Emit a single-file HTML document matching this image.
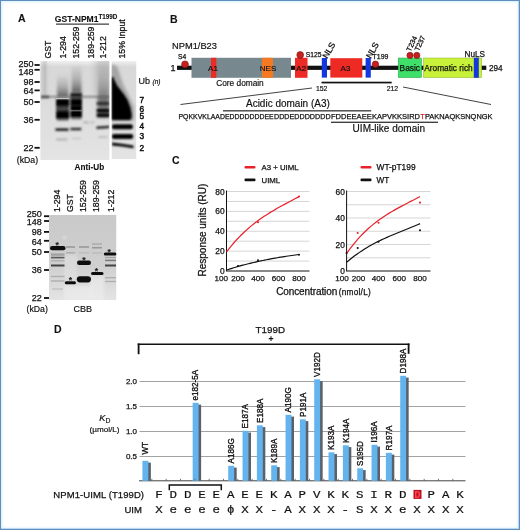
<!DOCTYPE html>
<html><head><meta charset="utf-8"><title>Figure</title>
<style>
html,body{margin:0;padding:0;background:#fff;}
body{width:520px;height:530px;overflow:hidden;position:relative;font-family:"Liberation Sans",sans-serif;}
#frame{position:absolute;left:0;top:0;width:518px;height:528px;border:1px solid #5f8dbd;box-shadow:inset -1px -1px 0 0 rgba(110,160,215,.35), inset 0 0 3px 1px rgba(200,235,252,.8);}
svg{position:absolute;left:0;top:0;}
text{font-family:"Liberation Sans",sans-serif;fill:#111;stroke:#111;stroke-width:.18px;}
.t{stroke:#111;stroke-width:.25px;}
.b{font-weight:bold;stroke-width:.1px;}
.mono{font-family:"Liberation Mono",monospace;}
</style></head><body>
<svg width="520" height="530" viewBox="0 0 520 530">
<defs>
<filter id="bl1" x="-20%" y="-50%" width="140%" height="200%"><feGaussianBlur stdDeviation="0.8"/></filter>
<filter id="bl2" x="-20%" y="-50%" width="140%" height="200%"><feGaussianBlur stdDeviation="1.6"/></filter>
<filter id="bl3" x="-30%" y="-30%" width="160%" height="160%"><feGaussianBlur stdDeviation="3"/></filter>
<filter id="bl0" x="-20%" y="-50%" width="140%" height="200%"><feGaussianBlur stdDeviation="0.5"/></filter>
<clipPath id="c1"><rect x="40.4" y="61" width="69" height="99"/></clipPath>
<clipPath id="c2"><rect x="111.5" y="61" width="25" height="98"/></clipPath>
<clipPath id="c3"><rect x="49" y="215" width="67.5" height="85"/></clipPath>
<linearGradient id="g1" x1="0" y1="0" x2="0" y2="1"><stop offset="0" stop-color="#f0f0f0"/><stop offset="0.06" stop-color="#d8d8d8"/><stop offset="0.45" stop-color="#dcdcdc"/><stop offset="1" stop-color="#e4e4e4"/></linearGradient>
<linearGradient id="sm" x1="0" y1="0" x2="0" y2="1"><stop offset="0" stop-color="#555" stop-opacity="0"/><stop offset="0.5" stop-color="#555" stop-opacity=".3"/><stop offset="1" stop-color="#333" stop-opacity=".75"/></linearGradient>
<linearGradient id="g3" x1="0" y1="0" x2="0" y2="1"><stop offset="0" stop-color="#c9c9c9"/><stop offset="0.6" stop-color="#cfcfcf"/><stop offset="1" stop-color="#e4e4e4"/></linearGradient>
</defs>

<g id="panelA">
<text class="b" x="18" y="21.5" font-size="10.5">A</text>
<text class="b" x="54.8" y="21.5" font-size="8.55">GST-NPM1<tspan font-size="6.3" dy="-3">T199D</tspan></text>
<rect x="56" y="23.6" width="53" height="1" fill="#111"/>
<text class="t" transform="translate(51,58.5) rotate(-90) scale(1,1.06)" font-size="8.7" >GST</text>
<text class="t" transform="translate(65.5,58.5) rotate(-90) scale(1,1.06)" font-size="8.7" >1-294</text>
<text class="t" transform="translate(79,58.5) rotate(-90) scale(1,1.06)" font-size="8.7" >152-259</text>
<text class="t" transform="translate(93.5,58.5) rotate(-90) scale(1,1.06)" font-size="8.7" >189-259</text>
<text class="t" transform="translate(106,58.5) rotate(-90) scale(1,1.06)" font-size="8.7" >1-212</text>
<text class="t" transform="translate(124.8,58.5) rotate(-90) scale(1,1.06)" font-size="8.7" >15% Input</text>
<text class="t" x="33.6" y="67.25" font-size="9" text-anchor="end">250</text>
<rect x="34.5" y="64.1" width="5.200000000000003" height="1.8" fill="#111"/>
<text class="t" x="33.6" y="75.45" font-size="9" text-anchor="end">148</text>
<rect x="34.5" y="68.89999999999999" width="5.200000000000003" height="1.8" fill="#111"/>
<text class="t" x="33.6" y="85.25" font-size="9" text-anchor="end">98</text>
<rect x="34.5" y="81.1" width="5.200000000000003" height="1.8" fill="#111"/>
<text class="t" x="33.6" y="93.95" font-size="9" text-anchor="end">64</text>
<rect x="34.5" y="89.5" width="5.200000000000003" height="1.8" fill="#111"/>
<text class="t" x="33.6" y="105.25" font-size="9" text-anchor="end">50</text>
<rect x="34.5" y="101.1" width="5.200000000000003" height="1.8" fill="#111"/>
<text class="t" x="33.6" y="123.05" font-size="9" text-anchor="end">36</text>
<rect x="34.5" y="118.89999999999999" width="5.200000000000003" height="1.8" fill="#111"/>
<text class="t" x="33.6" y="151.05" font-size="9" text-anchor="end">22</text>
<rect x="34.5" y="146.9" width="5.200000000000003" height="1.8" fill="#111"/>
<text x="16.8" y="163.4" font-size="8.7">(kDa)</text>
<text x="89.4" y="170.3" font-size="8.2" text-anchor="middle" class="b">Anti-Ub</text>
<g clip-path="url(#c1)">
<rect x="40" y="61" width="70" height="99" fill="url(#g1)"/>
<g filter="url(#bl3)">
<rect x="95" y="58" width="18" height="38" fill="#999" opacity=".4"/>
<rect x="40" y="60" width="6" height="36" fill="#aaa" opacity=".35"/>
</g>
<g filter="url(#bl2)">
<rect x="57" y="74" width="11.5" height="23" fill="url(#sm)"/>
<rect x="71.5" y="64" width="10" height="29" fill="url(#sm)"/>
<rect x="98" y="62" width="11" height="34" fill="url(#sm)" opacity=".6"/>
<rect x="97.5" y="96" width="12" height="22" fill="#333" opacity=".6"/>
</g>
<g filter="url(#bl1)">
<rect x="41" y="95.6" width="8" height="2.6" fill="#333"/>
<rect x="41" y="96" width="69" height="1.5" fill="#555" opacity=".8"/>
<rect x="44" y="61" width="1.5" height="34" fill="#888" opacity=".45"/>
<rect x="56.3" y="99" width="12.8" height="20" fill="#222"/>
<rect x="56.3" y="99" width="12.8" height="6.6" fill="#000"/>
<rect x="56.3" y="107" width="12.8" height="3.2" fill="#4a4a4a"/>
<rect x="56.3" y="111.4" width="12.8" height="7.4" fill="#000"/>
<rect x="57" y="118.5" width="11.5" height="2.2" fill="#555" opacity=".8"/>
<rect x="70.6" y="93" width="11.2" height="24.5" fill="#1a1a1a"/>
<rect x="70.6" y="93" width="11.2" height="3" fill="#111"/>
<rect x="70.6" y="96.5" width="11.2" height="2" fill="#555"/>
<rect x="70.6" y="99" width="11.2" height="6" fill="#000"/>
<rect x="70.6" y="106" width="11.2" height="4" fill="#000"/>
<rect x="70.6" y="111.6" width="11.2" height="5.8" fill="#000"/>
<rect x="71" y="117.5" width="10.5" height="2" fill="#555" opacity=".7"/>
</g>
<g filter="url(#bl0)">
<rect x="56" y="98" width="13" height=".7" fill="#ddd"/>
<rect x="70.3" y="110.4" width="11.5" height=".8" fill="#999"/>
</g>
<g filter="url(#bl1)">
<rect x="55.5" y="128.3" width="13" height="2.6" fill="#1a1a1a"/>
<rect x="70.5" y="127.8" width="10.8" height="2.5" fill="#2a2a2a"/>
<rect x="56" y="138.6" width="11.5" height="1.8" fill="#999" opacity=".7"/>
<rect x="72" y="137.8" width="9" height="1.5" fill="#aaa" opacity=".5"/>
<rect x="83.5" y="121.6" width="5" height="1.7" fill="#999" opacity=".8"/>
<rect x="90" y="121.6" width="4.5" height="1.7" fill="#aaa" opacity=".7"/>
<rect x="96.8" y="102.4" width="12.5" height="2.2" fill="#111"/>
<rect x="96.8" y="109" width="12.5" height="3.2" fill="#000"/>
<rect x="96.8" y="113.6" width="12.5" height="3.2" fill="#000"/>
<polygon points="96.5,126.6 109.5,125.8 109.5,128 96.5,128.9" fill="#1a1a1a"/>
<rect x="98.5" y="136.3" width="9" height="1.5" fill="#999" opacity=".6"/>
</g>
</g>
<g clip-path="url(#c2)">
<rect x="111.5" y="61" width="25" height="98" fill="url(#g1)"/>
<g filter="url(#bl2)"><polygon points="111,64 117,66 123,84 130,98 134,107 134,121 111,121" fill="#666" opacity=".45"/></g>
<g filter="url(#bl1)">
<polygon points="111.5,77.5 113.3,76.8 114.6,80.5 117.3,85.8 119.4,88.6 123.9,94.3 127.6,100 130.4,107.4 131.7,114 131.7,118 130,120 112.5,120 111.5,119" fill="#000"/>
<rect x="111.8" y="124.2" width="21.2" height="5" rx="2.2" fill="#000"/>
<rect x="111.8" y="134" width="21.5" height="5" rx="2.2" fill="#000"/>
<polygon points="112,142.6 122,143.8 133.5,145.6 133.5,148.2 122,146.6 112,145.6" fill="#000"/>
</g>
</g>
<text x="138.5" y="84.3" font-size="9">Ub <tspan font-size="6.5" font-style="italic">(n)</tspan></text>
<text x="139.6" y="102.95" font-size="8.3" style="stroke-width:.45px">7</text>
<text x="139.6" y="111.55" font-size="8.3" style="stroke-width:.45px">6</text>
<text x="139.6" y="119.25" font-size="8.3" style="stroke-width:.45px">5</text>
<text x="139.6" y="128.54999999999998" font-size="8.3" style="stroke-width:.45px">4</text>
<text x="139.6" y="139.35" font-size="8.3" style="stroke-width:.45px">3</text>
<text x="139.6" y="150.64999999999998" font-size="8.3" style="stroke-width:.45px">2</text>
<text class="t" transform="translate(59.5,212) rotate(-90) scale(1,1.06)" font-size="8.7" >1-294</text>
<text class="t" transform="translate(73,212) rotate(-90) scale(1,1.06)" font-size="8.7" >GST</text>
<text class="t" transform="translate(86,212) rotate(-90) scale(1,1.06)" font-size="8.7" >152-259</text>
<text class="t" transform="translate(99,212) rotate(-90) scale(1,1.06)" font-size="8.7" >189-259</text>
<text class="t" transform="translate(113.5,212) rotate(-90) scale(1,1.06)" font-size="8.7" >1-212</text>
<text class="t" x="41.8" y="217.45" font-size="9" text-anchor="end">250</text>
<rect x="44" y="215.29999999999998" width="5" height="1.8" fill="#111"/>
<text class="t" x="41.8" y="225.05" font-size="9" text-anchor="end">148</text>
<rect x="44" y="220.1" width="5" height="1.8" fill="#111"/>
<text class="t" x="41.8" y="234.95" font-size="9" text-anchor="end">98</text>
<rect x="44" y="231.0" width="5" height="1.8" fill="#111"/>
<text class="t" x="41.8" y="244.95" font-size="9" text-anchor="end">64</text>
<rect x="44" y="239.9" width="5" height="1.8" fill="#111"/>
<text class="t" x="41.8" y="255.25" font-size="9" text-anchor="end">50</text>
<rect x="44" y="251.1" width="5" height="1.8" fill="#111"/>
<text class="t" x="41.8" y="273.25" font-size="9" text-anchor="end">36</text>
<rect x="44" y="269.1" width="5" height="1.8" fill="#111"/>
<text class="t" x="41.8" y="301.25" font-size="9" text-anchor="end">22</text>
<rect x="44" y="297.1" width="5" height="1.8" fill="#111"/>
<text x="26.6" y="311.6" font-size="8.7">(kDa)</text>
<text x="82.7" y="311.6" font-size="9" text-anchor="middle">CBB</text>
<g clip-path="url(#c3)">
<rect x="49" y="214" width="67.5" height="86" fill="url(#g3)"/>
<g filter="url(#bl2)">
<rect x="64" y="255" width="13" height="24" fill="#eee" opacity=".35"/>
<rect x="90" y="276" width="14" height="24" fill="#f2f2f2" opacity=".5"/>
<rect x="64" y="286" width="28" height="14" fill="#eee" opacity=".6"/>
</g>
<circle cx="64.5" cy="237.4" r="1.2" fill="#fff" opacity=".6" filter="url(#bl1)"/>
<g filter="url(#bl0)">
<rect x="50" y="246.1" width="15.5" height="4.2" rx="2.1" fill="#111" opacity="1"/>
<rect x="51" y="253.4" width="13.5" height="2.4" rx="0" fill="#777" opacity="0.5"/>
<rect x="51" y="256.8" width="13.5" height="1.6" rx="0" fill="#444" opacity="0.85"/>
<rect x="51" y="260.1" width="13.5" height="1.4" rx="0" fill="#777" opacity="0.35"/>
<rect x="51" y="264.5" width="13.5" height="2" rx="0" fill="#333" opacity="0.9"/>
<rect x="51" y="275.8" width="13.5" height="1.4" rx="0" fill="#888" opacity="0.5"/>
<rect x="51" y="280.3" width="13.5" height="1.4" rx="0" fill="#888" opacity="0.5"/>
<rect x="52" y="288.3" width="11" height="1.4" rx="0" fill="#999" opacity="0.4"/>
<rect x="64.8" y="281.3" width="11.200000000000003" height="3" rx="1.5" fill="#111" opacity="1"/>
<rect x="66" y="246.2" width="9" height="1.6" rx="0" fill="#777" opacity="0.6"/>
<rect x="66" y="252.10000000000002" width="9" height="1.4" rx="0" fill="#888" opacity="0.5"/>
<rect x="77" y="260.5" width="14" height="4.4" rx="2.2" fill="#111" opacity="1"/>
<rect x="76.8" y="276.2" width="14.200000000000003" height="6.2" rx="3.1" fill="#111" opacity="1"/>
<rect x="79" y="246.2" width="10" height="1.6" rx="0" fill="#777" opacity="0.6"/>
<rect x="79" y="252.20000000000002" width="10" height="1.2" rx="0" fill="#999" opacity="0.4"/>
<rect x="91" y="272.1" width="12.5" height="3" rx="1.5" fill="#111" opacity="1"/>
<rect x="92" y="243.3" width="10" height="1.4" rx="0" fill="#888" opacity="0.5"/>
<rect x="92" y="246.89999999999998" width="10" height="1.6" rx="0" fill="#777" opacity="0.6"/>
<rect x="92" y="252.4" width="10" height="1.2" rx="0" fill="#999" opacity="0.4"/>
<rect x="103.8" y="252.4" width="12.700000000000003" height="3.2" rx="1.6" fill="#111" opacity="1"/>
<rect x="105" y="259.65" width="11" height="1.5" rx="0" fill="#555" opacity="0.7"/>
<rect x="105" y="264.5" width="11" height="2" rx="0" fill="#333" opacity="0.9"/>
<rect x="105" y="256.9" width="11" height="1.2" rx="0" fill="#777" opacity="0.5"/>
<rect x="105" y="277.0" width="11" height="1.4" rx="0" fill="#888" opacity="0.5"/>
<rect x="105" y="280.8" width="11" height="1.4" rx="0" fill="#888" opacity="0.5"/>
</g>
</g>
<text x="57.3" y="248.20000000000002" font-size="8.6" text-anchor="middle" class="b" style="fill:#222">*</text>
<text x="70.5" y="283.2" font-size="8.6" text-anchor="middle" class="b" style="fill:#222">*</text>
<text x="83.9" y="262.7" font-size="8.6" text-anchor="middle" class="b" style="fill:#222">*</text>
<text x="96.5" y="274.0" font-size="8.6" text-anchor="middle" class="b" style="fill:#222">*</text>
<text x="109.2" y="254.70000000000002" font-size="8.6" text-anchor="middle" class="b" style="fill:#222">*</text>
</g>
<g id="panelB">
<text class="b" x="170" y="22.5" font-size="10.5">B</text>
<text x="172" y="48.8" font-size="9.3">NPM1/B23</text>
<rect x="177" y="65.7" width="309.3" height="4.2" fill="#111"/>
<text class="t" x="170.5" y="71" font-size="9">1</text>
<text class="t" x="489" y="70.9" font-size="8.2">294</text>
<rect x="191.5" y="57.8" width="99.5" height="20" fill="#77898f"/>
<rect x="211" y="57.8" width="5.3" height="20" fill="#ee2a24"/>
<rect x="262" y="57.8" width="11" height="20" fill="#f47920"/>
<rect x="295" y="57.8" width="12.5" height="20" fill="#ee2a24"/>
<rect x="321.8" y="58" width="5.2" height="19.6" fill="#1438e0"/>
<rect x="330.3" y="58.2" width="32" height="19.4" fill="#ee2a24"/>
<rect x="365.6" y="58" width="5.2" height="19.6" fill="#1438e0"/>
<rect x="398.2" y="58" width="23.3" height="19.6" fill="#3fe06a" stroke="#2a9a48" stroke-width=".5"/>
<rect x="423.5" y="58" width="58.2" height="19.6" fill="#c8f23a" stroke="#8fae2a" stroke-width=".5"/>
<rect x="473.8" y="57.8" width="5" height="20" fill="#1438e0"/>
<circle cx="185" cy="64.3" r="3.4" fill="#c8201e" stroke="#7a1210" stroke-width=".6"/>
<circle cx="300.2" cy="55" r="3.4" fill="#c8201e" stroke="#7a1210" stroke-width=".6"/>
<circle cx="375.4" cy="64.2" r="3.2" fill="#c8201e" stroke="#7a1210" stroke-width=".6"/>
<circle cx="410" cy="55.4" r="3.1" fill="#c8201e" stroke="#7a1210" stroke-width=".6"/>
<circle cx="416.8" cy="55.4" r="3.1" fill="#c8201e" stroke="#7a1210" stroke-width=".6"/>
<text x="178" y="58.8" font-size="6.7" style="stroke-width:.25px">S4</text>
<text x="305.8" y="57" font-size="6.7" style="stroke-width:.25px">S125</text>
<text x="372.6" y="59" font-size="6.9" style="stroke-width:.25px">T199</text>
<text x="213" y="70.8" font-size="8" text-anchor="middle">A1</text>
<text x="268" y="70.8" font-size="8" text-anchor="middle">NES</text>
<text x="301.2" y="70.8" font-size="8" text-anchor="middle">A2</text>
<text x="345.5" y="70.8" font-size="8" text-anchor="middle">A3</text>
<text class="t" x="409.8" y="71" font-size="8.4" text-anchor="middle">Basic</text>
<text class="t" x="448.5" y="71" font-size="8.3" text-anchor="middle">Aromatic rich</text>
<text class="t" x="474.8" y="56.9" font-size="8.2" text-anchor="middle">NuLS</text>
<text  transform="translate(327.3,59) rotate(-60)" font-size="8.6" style="stroke-width:.3px">NLS</text>
<text  transform="translate(370.8,59) rotate(-60)" font-size="8.6" style="stroke-width:.3px">NLS</text>
<text  transform="translate(410.6,51.9) rotate(-65)" font-size="7" style="stroke-width:.3px">T234</text>
<text  transform="translate(418.7,51.6) rotate(-65)" font-size="7" style="stroke-width:.3px">T237</text>
<text x="240" y="86.4" font-size="8.3" text-anchor="middle">Core domain</text>
<rect x="321.5" y="81.7" width="70.2" height="1.7" fill="#111"/>
<text x="321.7" y="91.2" font-size="6.9" text-anchor="middle">152</text>
<text x="392.4" y="90.6" font-size="6.9" text-anchor="middle">212</text>
<line x1="180.5" y1="104.5" x2="312" y2="88" stroke="#111" stroke-width=".8"/>
<line x1="403" y1="87" x2="491" y2="104.5" stroke="#111" stroke-width=".8"/>
<text x="246" y="106.8" font-size="10.3" textLength="83.8" lengthAdjust="spacingAndGlyphs">Acidic domain (A3)</text>
<rect x="223" y="110.3" width="148.2" height="1.1" fill="#111"/>
<text class="t" y="119" font-size="7.4"><tspan x="178.5" textLength="95.2" lengthAdjust="spacingAndGlyphs" style="fill:#111;stroke:#111">PQKKVKLAADEDDDDDDDEE</tspan><tspan x="274" textLength="56.6" lengthAdjust="spacingAndGlyphs" style="fill:#111;stroke:#111">DDDEDDDDDDD</tspan><tspan x="330.9" textLength="40.9" lengthAdjust="spacingAndGlyphs" style="fill:#111;stroke:#111">FDDEEAEE</tspan><tspan x="372" textLength="48.0" lengthAdjust="spacingAndGlyphs" style="fill:#111;stroke:#111">KAPVKKSIRD</tspan><tspan x="420.3" textLength="4.4" lengthAdjust="spacingAndGlyphs" style="fill:#e02020;stroke:#e02020">T</tspan><tspan x="424.9" textLength="67.6" lengthAdjust="spacingAndGlyphs" style="fill:#111;stroke:#111">PAKNAQKSNQNGK</tspan></text>
<rect x="331" y="121.7" width="107" height="1.1" fill="#111"/>
<text x="352.6" y="132.2" font-size="10.3" textLength="72.5" lengthAdjust="spacingAndGlyphs">UIM-like domain</text>
</g>
<g id="panelC">
<text class="b" x="172" y="164" font-size="10.5">C</text>
<rect x="244.5" y="165.9" width="11" height="2.6" rx="1" fill="#e8202a"/>
<rect x="244.5" y="178.6" width="11" height="2.6" rx="1" fill="#111"/>
<text class="t" x="261.5" y="170.2" font-size="7.8" textLength="37" lengthAdjust="spacing">A3 + UIML</text>
<text class="t" x="261.5" y="183" font-size="7.8">UIML</text>
<rect x="360.5" y="165.9" width="11" height="2.6" rx="1" fill="#e8202a"/>
<rect x="360.5" y="178.6" width="11" height="2.6" rx="1" fill="#111"/>
<text class="t" x="376.5" y="170.3" font-size="8.4">WT-pT199</text>
<text class="t" x="376.5" y="183.2" font-size="8.2">WT</text>
<line x1="226.5" y1="261.06" x2="309.5" y2="261.06" stroke="#c4c4c4" stroke-width=".7"/>
<line x1="226.5" y1="251.12" x2="309.5" y2="251.12" stroke="#c4c4c4" stroke-width=".7"/>
<line x1="226.5" y1="241.19" x2="309.5" y2="241.19" stroke="#c4c4c4" stroke-width=".7"/>
<line x1="226.5" y1="231.25" x2="309.5" y2="231.25" stroke="#c4c4c4" stroke-width=".7"/>
<line x1="226.5" y1="221.31" x2="309.5" y2="221.31" stroke="#c4c4c4" stroke-width=".7"/>
<line x1="226.5" y1="211.38" x2="309.5" y2="211.38" stroke="#c4c4c4" stroke-width=".7"/>
<line x1="226.5" y1="201.44" x2="309.5" y2="201.44" stroke="#c4c4c4" stroke-width=".7"/>
<line x1="226.5" y1="191.50" x2="309.5" y2="191.50" stroke="#c4c4c4" stroke-width=".7"/>
<line x1="226.5" y1="190.5" x2="226.5" y2="271" stroke="#111" stroke-width="1"/>
<line x1="226.0" y1="271" x2="309.5" y2="271" stroke="#111" stroke-width="1"/>
<text class="t" x="224.7" y="274.00" font-size="8.4" text-anchor="end">0</text>
<text class="t" x="224.7" y="254.12" font-size="8.4" text-anchor="end">20</text>
<text class="t" x="224.7" y="234.25" font-size="8.4" text-anchor="end">40</text>
<text class="t" x="224.7" y="214.38" font-size="8.4" text-anchor="end">60</text>
<text class="t" x="224.7" y="194.50" font-size="8.4" text-anchor="end">80</text>
<text class="t" x="221.3" y="280.9" font-size="8.1" text-anchor="middle">100</text>
<text class="t" x="238" y="280.9" font-size="8.1" text-anchor="middle">200</text>
<text class="t" x="258" y="280.9" font-size="8.1" text-anchor="middle">400</text>
<text class="t" x="278.4" y="280.9" font-size="8.1" text-anchor="middle">600</text>
<text class="t" x="299" y="280.9" font-size="8.1" text-anchor="middle">800</text>
<path d="M226.50,251.87 L228.31,249.54 L230.12,247.28 L231.94,245.10 L233.75,242.99 L235.56,240.95 L237.38,238.98 L239.19,237.08 L241.00,235.24 L242.81,233.46 L244.62,231.74 L246.44,230.08 L248.25,228.47 L250.06,226.91 L251.88,225.40 L253.69,223.94 L255.50,222.53 L257.31,221.16 L259.12,219.84 L260.94,218.55 L262.75,217.30 L264.56,216.08 L266.38,214.90 L268.19,213.74 L270.00,212.62 L271.81,211.52 L273.62,210.44 L275.44,209.39 L277.25,208.35 L279.06,207.34 L280.88,206.33 L282.69,205.34 L284.50,204.37 L286.31,203.40 L288.12,202.43 L289.94,201.47 L291.75,200.51 L293.56,199.55 L295.38,198.59 L297.19,197.62 L299.00,196.65" fill="none" stroke="#e8202a" stroke-width="1.2"/>
<path d="M226.50,270.03 L228.31,269.45 L230.12,268.87 L231.94,268.31 L233.75,267.76 L235.56,267.22 L237.38,266.70 L239.19,266.18 L241.00,265.68 L242.81,265.19 L244.62,264.71 L246.44,264.24 L248.25,263.78 L250.06,263.33 L251.88,262.89 L253.69,262.47 L255.50,262.05 L257.31,261.64 L259.12,261.24 L260.94,260.85 L262.75,260.47 L264.56,260.10 L266.38,259.74 L268.19,259.39 L270.00,259.04 L271.81,258.70 L273.62,258.38 L275.44,258.06 L277.25,257.74 L279.06,257.44 L280.88,257.14 L282.69,256.85 L284.50,256.56 L286.31,256.28 L288.12,256.01 L289.94,255.75 L291.75,255.49 L293.56,255.24 L295.38,254.99 L297.19,254.75 L299.00,254.51" fill="none" stroke="#111" stroke-width="1.2"/>
<circle cx="258" cy="222.2" r="1.05" fill="#e8202a"/>
<circle cx="299" cy="196.5" r="1.05" fill="#e8202a"/>
<circle cx="238" cy="266" r="1.05" fill="#111"/>
<circle cx="258" cy="260.3" r="1.05" fill="#111"/>
<circle cx="299" cy="254.7" r="1.05" fill="#111"/>
<line x1="346.6" y1="257.75" x2="430.5" y2="257.75" stroke="#c4c4c4" stroke-width=".7"/>
<line x1="346.6" y1="244.50" x2="430.5" y2="244.50" stroke="#c4c4c4" stroke-width=".7"/>
<line x1="346.6" y1="231.25" x2="430.5" y2="231.25" stroke="#c4c4c4" stroke-width=".7"/>
<line x1="346.6" y1="218.00" x2="430.5" y2="218.00" stroke="#c4c4c4" stroke-width=".7"/>
<line x1="346.6" y1="204.75" x2="430.5" y2="204.75" stroke="#c4c4c4" stroke-width=".7"/>
<line x1="346.6" y1="191.50" x2="430.5" y2="191.50" stroke="#c4c4c4" stroke-width=".7"/>
<line x1="346.6" y1="190.5" x2="346.6" y2="271" stroke="#111" stroke-width="1"/>
<line x1="346.1" y1="271" x2="430.5" y2="271" stroke="#111" stroke-width="1"/>
<text class="t" x="344.8" y="274.00" font-size="8.4" text-anchor="end">0</text>
<text class="t" x="344.8" y="247.50" font-size="8.4" text-anchor="end">20</text>
<text class="t" x="344.8" y="221.00" font-size="8.4" text-anchor="end">40</text>
<text class="t" x="344.8" y="194.50" font-size="8.4" text-anchor="end">60</text>
<text class="t" x="342" y="280.9" font-size="8.1" text-anchor="middle">100</text>
<text class="t" x="358.4" y="280.9" font-size="8.1" text-anchor="middle">200</text>
<text class="t" x="378.5" y="280.9" font-size="8.1" text-anchor="middle">400</text>
<text class="t" x="399.2" y="280.9" font-size="8.1" text-anchor="middle">600</text>
<text class="t" x="420" y="280.9" font-size="8.1" text-anchor="middle">800</text>
<path d="M346.60,253.50 L348.44,250.93 L350.27,248.45 L352.11,246.07 L353.94,243.77 L355.78,241.56 L357.61,239.44 L359.44,237.39 L361.28,235.43 L363.12,233.54 L364.95,231.72 L366.79,229.97 L368.62,228.29 L370.46,226.67 L372.29,225.12 L374.12,223.62 L375.96,222.17 L377.80,220.78 L379.63,219.44 L381.47,218.14 L383.30,216.89 L385.13,215.68 L386.97,214.51 L388.81,213.37 L390.64,212.26 L392.48,211.19 L394.31,210.14 L396.14,209.11 L397.98,208.10 L399.81,207.12 L401.65,206.14 L403.49,205.18 L405.32,204.23 L407.16,203.28 L408.99,202.34 L410.82,201.40 L412.66,200.45 L414.50,199.50 L416.33,198.55 L418.16,197.58 L420.00,196.59" fill="none" stroke="#e8202a" stroke-width="1.2"/>
<path d="M346.60,262.34 L348.44,260.76 L350.27,259.24 L352.11,257.77 L353.94,256.34 L355.78,254.97 L357.61,253.65 L359.44,252.37 L361.28,251.13 L363.12,249.93 L364.95,248.78 L366.79,247.66 L368.62,246.58 L370.46,245.53 L372.29,244.52 L374.12,243.54 L375.96,242.58 L377.80,241.66 L379.63,240.75 L381.47,239.88 L383.30,239.02 L385.13,238.18 L386.97,237.37 L388.81,236.56 L390.64,235.77 L392.48,235.00 L394.31,234.24 L396.14,233.48 L397.98,232.73 L399.81,231.99 L401.65,231.25 L403.49,230.51 L405.32,229.77 L407.16,229.03 L408.99,228.29 L410.82,227.54 L412.66,226.78 L414.50,226.02 L416.33,225.24 L418.16,224.45 L420.00,223.64" fill="none" stroke="#111" stroke-width="1.2"/>
<circle cx="357.7" cy="233" r="1.05" fill="#e8202a"/>
<circle cx="378.5" cy="222.7" r="1.05" fill="#e8202a"/>
<circle cx="420" cy="202.6" r="1.05" fill="#e8202a"/>
<circle cx="346.6" cy="253" r="1.05" fill="#111"/>
<circle cx="357.7" cy="248" r="1.05" fill="#111"/>
<circle cx="378.5" cy="241.7" r="1.05" fill="#111"/>
<circle cx="420" cy="230.3" r="1.05" fill="#111"/>
<text class="t" transform="translate(206.2,276.5) rotate(-90)" font-size="10">Response units (RU)</text>
<text class="t" x="276.2" y="295.2" font-size="10" textLength="61" lengthAdjust="spacing">Concentration</text><text class="t" x="338.7" y="295" font-size="8.2" textLength="32" lengthAdjust="spacing">(nmol/L)</text>
</g>
<g id="panelD">
<text class="b" x="53.9" y="333" font-size="10.5">D</text>
<text class="t" x="255.6" y="333" font-size="9.8">T199D</text>
<text x="270.9" y="341.6" font-size="8.5" text-anchor="middle" class="b">+</text>
<path d="M137.7,344.3 H409.5" fill="none" stroke="#111" stroke-width="1.6"/><rect x="137.7" y="343.5" width="1.8" height="10.7" fill="#111"/><rect x="407.7" y="343.5" width="1.8" height="10.3" fill="#111"/>
<line x1="139.5" y1="456.50" x2="465.5" y2="456.50" stroke="#a2a2a2" stroke-width="1"/>
<text class="t" x="137" y="459.40" font-size="8" text-anchor="end">0.5</text>
<line x1="139.5" y1="431.50" x2="465.5" y2="431.50" stroke="#a2a2a2" stroke-width="1"/>
<text class="t" x="137" y="434.40" font-size="8" text-anchor="end">1.0</text>
<line x1="139.5" y1="406.50" x2="465.5" y2="406.50" stroke="#a2a2a2" stroke-width="1"/>
<text class="t" x="137" y="409.40" font-size="8" text-anchor="end">1.5</text>
<line x1="139.5" y1="381.50" x2="465.5" y2="381.50" stroke="#a2a2a2" stroke-width="1"/>
<text class="t" x="137" y="384.40" font-size="8" text-anchor="end">2.0</text>
<line x1="139" y1="480.8" x2="465.5" y2="480.8" stroke="#444" stroke-width="1"/>
<text x="99.3" y="421.3" font-size="9.2" font-style="italic">K<tspan font-size="6.8" font-style="normal" dy="1.8">D</tspan></text>
<text x="89.5" y="432" font-size="8" textLength="30" lengthAdjust="spacingAndGlyphs">(µmol/L)</text>
<rect x="145.67" y="462.60" width="5.2" height="18.20" fill="#59616b"/>
<rect x="142.42" y="460.80" width="5.9" height="20.00" fill="#63b4ee"/>
<text transform="translate(148.17,454.60) rotate(-90) scale(1,1.1)" font-size="8.1" style="stroke-width:.3px">WT</text>
<rect x="195.92" y="404.60" width="5.2" height="76.20" fill="#59616b"/>
<rect x="192.67" y="402.80" width="5.9" height="78.00" fill="#63b4ee"/>
<text transform="translate(198.42,400.40) rotate(-90) scale(1,1.1)" font-size="8.1" style="stroke-width:.3px">e182-5A</text>
<rect x="231.47" y="467.60" width="5.2" height="13.20" fill="#59616b"/>
<rect x="228.22" y="465.80" width="5.9" height="15.00" fill="#63b4ee"/>
<text transform="translate(233.97,463.40) rotate(-90) scale(1,1.1)" font-size="8.1" style="stroke-width:.3px">A186G</text>
<rect x="245.80" y="432.60" width="5.2" height="48.20" fill="#59616b"/>
<rect x="242.55" y="430.80" width="5.9" height="50.00" fill="#63b4ee"/>
<text transform="translate(248.30,428.40) rotate(-90) scale(1,1.1)" font-size="8.1" style="stroke-width:.3px">E187A</text>
<rect x="260.13" y="427.10" width="5.2" height="53.70" fill="#59616b"/>
<rect x="256.88" y="425.30" width="5.9" height="55.50" fill="#63b4ee"/>
<text transform="translate(262.63,422.90) rotate(-90) scale(1,1.1)" font-size="8.1" style="stroke-width:.3px">E188A</text>
<rect x="274.46" y="467.10" width="5.2" height="13.70" fill="#59616b"/>
<rect x="271.21" y="465.30" width="5.9" height="15.50" fill="#63b4ee"/>
<text transform="translate(276.96,462.90) rotate(-90) scale(1,1.1)" font-size="8.1" style="stroke-width:.3px">K189A</text>
<rect x="288.80" y="416.60" width="5.2" height="64.20" fill="#59616b"/>
<rect x="285.55" y="414.80" width="5.9" height="66.00" fill="#63b4ee"/>
<text transform="translate(291.30,412.40) rotate(-90) scale(1,1.1)" font-size="8.1" style="stroke-width:.3px">A190G</text>
<rect x="303.13" y="421.10" width="5.2" height="59.70" fill="#59616b"/>
<rect x="299.88" y="419.30" width="5.9" height="61.50" fill="#63b4ee"/>
<text transform="translate(305.63,416.90) rotate(-90) scale(1,1.1)" font-size="8.1" style="stroke-width:.3px">P191A</text>
<rect x="317.46" y="381.10" width="5.2" height="99.70" fill="#59616b"/>
<rect x="314.21" y="379.30" width="5.9" height="101.50" fill="#63b4ee"/>
<text transform="translate(319.96,376.90) rotate(-90) scale(1,1.1)" font-size="8.1" style="stroke-width:.3px">V192D</text>
<rect x="331.80" y="454.10" width="5.2" height="26.70" fill="#59616b"/>
<rect x="328.55" y="452.30" width="5.9" height="28.50" fill="#63b4ee"/>
<text transform="translate(334.30,449.90) rotate(-90) scale(1,1.1)" font-size="8.1" style="stroke-width:.3px">K193A</text>
<rect x="346.13" y="447.10" width="5.2" height="33.70" fill="#59616b"/>
<rect x="342.88" y="445.30" width="5.9" height="35.50" fill="#63b4ee"/>
<text transform="translate(348.63,442.90) rotate(-90) scale(1,1.1)" font-size="8.1" style="stroke-width:.3px">K194A</text>
<rect x="360.46" y="470.10" width="5.2" height="10.70" fill="#59616b"/>
<rect x="357.21" y="468.30" width="5.9" height="12.50" fill="#63b4ee"/>
<text transform="translate(362.96,465.90) rotate(-90) scale(1,1.1)" font-size="8.1" style="stroke-width:.3px">S195D</text>
<rect x="374.80" y="446.60" width="5.2" height="34.20" fill="#59616b"/>
<rect x="371.55" y="444.80" width="5.9" height="36.00" fill="#63b4ee"/>
<text transform="translate(377.30,442.40) rotate(-90) scale(1,1.1)" font-size="8.1" style="stroke-width:.3px">I196A</text>
<rect x="389.13" y="454.60" width="5.2" height="26.20" fill="#59616b"/>
<rect x="385.88" y="452.80" width="5.9" height="28.00" fill="#63b4ee"/>
<text transform="translate(391.63,450.40) rotate(-90) scale(1,1.1)" font-size="8.1" style="stroke-width:.3px">R197A</text>
<rect x="403.46" y="377.60" width="5.2" height="103.20" fill="#59616b"/>
<rect x="400.21" y="375.80" width="5.9" height="105.00" fill="#63b4ee"/>
<text transform="translate(405.96,373.40) rotate(-90) scale(1,1.1)" font-size="8.1" style="stroke-width:.3px">D198A</text>
<line x1="151.83" y1="478.8" x2="151.83" y2="480.8" stroke="#555" stroke-width=".8"/>
<line x1="166.17" y1="478.8" x2="166.17" y2="480.8" stroke="#555" stroke-width=".8"/>
<line x1="180.50" y1="478.8" x2="180.50" y2="480.8" stroke="#555" stroke-width=".8"/>
<line x1="194.83" y1="478.8" x2="194.83" y2="480.8" stroke="#555" stroke-width=".8"/>
<line x1="209.17" y1="478.8" x2="209.17" y2="480.8" stroke="#555" stroke-width=".8"/>
<line x1="223.50" y1="478.8" x2="223.50" y2="480.8" stroke="#555" stroke-width=".8"/>
<line x1="237.83" y1="478.8" x2="237.83" y2="480.8" stroke="#555" stroke-width=".8"/>
<line x1="252.16" y1="478.8" x2="252.16" y2="480.8" stroke="#555" stroke-width=".8"/>
<line x1="266.50" y1="478.8" x2="266.50" y2="480.8" stroke="#555" stroke-width=".8"/>
<line x1="280.83" y1="478.8" x2="280.83" y2="480.8" stroke="#555" stroke-width=".8"/>
<line x1="295.16" y1="478.8" x2="295.16" y2="480.8" stroke="#555" stroke-width=".8"/>
<line x1="309.50" y1="478.8" x2="309.50" y2="480.8" stroke="#555" stroke-width=".8"/>
<line x1="323.83" y1="478.8" x2="323.83" y2="480.8" stroke="#555" stroke-width=".8"/>
<line x1="338.16" y1="478.8" x2="338.16" y2="480.8" stroke="#555" stroke-width=".8"/>
<line x1="352.50" y1="478.8" x2="352.50" y2="480.8" stroke="#555" stroke-width=".8"/>
<line x1="366.83" y1="478.8" x2="366.83" y2="480.8" stroke="#555" stroke-width=".8"/>
<line x1="381.16" y1="478.8" x2="381.16" y2="480.8" stroke="#555" stroke-width=".8"/>
<line x1="395.49" y1="478.8" x2="395.49" y2="480.8" stroke="#555" stroke-width=".8"/>
<line x1="409.83" y1="478.8" x2="409.83" y2="480.8" stroke="#555" stroke-width=".8"/>
<line x1="424.16" y1="478.8" x2="424.16" y2="480.8" stroke="#555" stroke-width=".8"/>
<line x1="438.49" y1="478.8" x2="438.49" y2="480.8" stroke="#555" stroke-width=".8"/>
<line x1="452.83" y1="478.8" x2="452.83" y2="480.8" stroke="#555" stroke-width=".8"/>
<text class="t" x="53.3" y="498" font-size="9.5" textLength="90.7" lengthAdjust="spacing">NPM1-UIML (T199D)</text>
<text class="t" x="124.5" y="513" font-size="9.5">UIM</text>
<path d="M169.3,490.2 V484.9 H221.3 V490.2" fill="none" stroke="#111" stroke-width="1.5"/>
<rect x="413.49" y="489.9" width="8" height="9" fill="#c00a1e"/>
<text class="mono" transform="translate(0,498) scale(1.06,1)" font-size="11.8" text-anchor="middle" style="stroke-width:.2px"><tspan x="150.00">F</tspan><tspan x="163.52">D</tspan><tspan x="177.04">D</tspan><tspan x="190.57">E</tspan><tspan x="204.09">E</tspan><tspan x="217.61">A</tspan><tspan x="231.13">E</tspan><tspan x="244.65">E</tspan><tspan x="258.17">K</tspan><tspan x="271.70">A</tspan><tspan x="285.22">P</tspan><tspan x="298.74">V</tspan><tspan x="312.26">K</tspan><tspan x="325.78">K</tspan><tspan x="339.30">S</tspan><tspan x="352.83">I</tspan><tspan x="366.35">R</tspan><tspan x="379.87">D</tspan><tspan x="393.84" dy="-0.2" font-size="10" font-weight="bold" style="fill:#f8484a;stroke:none">D</tspan><tspan x="406.91" dy="0.2">P</tspan><tspan x="420.43">A</tspan><tspan x="433.96">K</tspan></text>
<text class="mono" transform="translate(0,513.3) scale(1.06,1)" font-size="11.8" text-anchor="middle" style="stroke-width:.2px"><tspan x="150.00">X</tspan><tspan x="163.52">e</tspan><tspan x="177.04">e</tspan><tspan x="190.57">e</tspan><tspan x="204.09">e</tspan><tspan x="217.61">ϕ</tspan><tspan x="231.13">X</tspan><tspan x="244.65">X</tspan><tspan x="258.17">-</tspan><tspan x="271.70">A</tspan><tspan x="285.22">X</tspan><tspan x="298.74">X</tspan><tspan x="312.26">X</tspan><tspan x="325.78">-</tspan><tspan x="339.30">S</tspan><tspan x="352.83">X</tspan><tspan x="366.35">X</tspan><tspan x="379.87">e</tspan><tspan x="393.39">X</tspan><tspan x="406.91">X</tspan><tspan x="420.43">X</tspan><tspan x="433.96">X</tspan></text>
</g>
</svg>
<div id="frame"></div>
</body></html>
